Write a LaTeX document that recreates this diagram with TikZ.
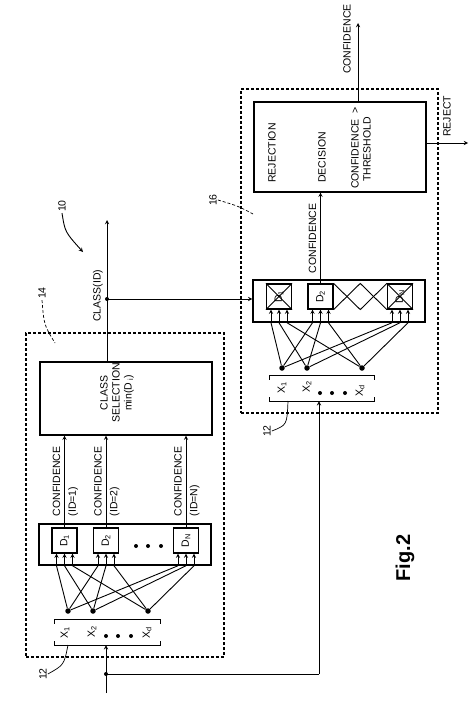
\documentclass[tikz,border=0pt]{standalone}
\usepackage{fontspec}
\setmainfont{Liberation Sans}
\usetikzlibrary{calc}

\begin{document}
\begin{tikzpicture}[x=1pt, y=-1pt, >=stealth,
  every node/.style={font=\fontsize{10.5}{12}\selectfont, inner sep=1pt},
  blk/.style={draw, line width=1.2pt, inner sep=0pt},
  bank/.style={draw, line width=1.5pt, inner sep=0pt, minimum width=172pt},
  dbox/.style={draw, line width=1.2pt, inner sep=0pt, minimum width=25pt, minimum height=25pt},
  module/.style={draw, densely dashed, line width=1.1pt, inner sep=0pt},
  lbl/.style={rotate=90},
  jdot/.style={circle, fill, inner sep=0pt, minimum size=5.5pt},
  sdot/.style={circle, fill, inner sep=0pt, minimum size=4pt},
  wire/.style={line width=0.9pt},
  lead/.style={line width=0.7pt, densely dashed}]

\useasboundingbox (0,0) rectangle (474,714);

% module 14 (class selection)
\node (M14) [module, minimum width=198pt, minimum height=324pt] at (125,495) {};
\node (S) [blk, minimum width=172pt, minimum height=73pt] at (126,398.5) {};
\node (St) [lbl, align=center] at (117,393) {CLASS\\SELECTION\\min(D\textsubscript{ i})};
\node (B1) [bank, minimum height=41pt] at (125,544.5) {};
\node (D1) [dbox] at (64.5,540.5) {};
\node (D2) [dbox] at (106,540.5) {};
\node (DN) [dbox] at (186,540.5) {};
\node (D1t) [lbl] at (D1) {D\textsubscript{1}};
\node (D2t) [lbl] at (D2) {D\textsubscript{2}};
\node (DNt) [lbl] at (DN) {D\textsubscript{N}};
\node (b1) [sdot] at (136,546) {};
\node (b2) [sdot] at (148,546) {};
\node (b3) [sdot] at (161,546) {};
\node (P1) [jdot] at (68,611) {};
\node (P2) [jdot] at (93,611) {};
\node (Pd) [jdot] at (148,611) {};
\node (V1) [minimum width=105pt, minimum height=25pt, inner sep=0pt] at (107.5,632.5) {};
\draw[line width=0.9pt] ([yshift=-4pt]V1.north west) -- (V1.north west) -- (V1.north east) -- ([yshift=-4pt]V1.north east);
\draw[line width=0.9pt] ([yshift=4pt]V1.south west) -- (V1.south west) -- (V1.south east) -- ([yshift=4pt]V1.south east);
\node (X1) [lbl] at (65,633) {X\textsubscript{1}};
\node (X2) [lbl] at (92,632) {X\textsubscript{2}};
\node (Xd) [lbl] at (147,633) {X\textsubscript{d}};
\node (v1) [sdot] at (106,636) {};
\node (v2) [sdot] at (118,636) {};
\node (v3) [sdot] at (131,636) {};

% module 16 (rejection)
\node (M16) [module, minimum width=197pt, minimum height=324pt] at (339.5,251) {};
\node (R) [blk, minimum width=172pt, minimum height=90pt] at (340,147) {};
\node (R1) [lbl, anchor=west] at (272,184) {REJECTION};
\node (R2) [lbl, anchor=west] at (322,184) {DECISION};
\node (R3) [lbl, anchor=west] at (355,190) {CONFIDENCE\hspace{6pt}>};
\node (R4) [lbl, anchor=west] at (367,183) {THRESHOLD};
\node (B2) [bank, minimum height=42pt] at (339,301) {};
\node (E1) [dbox] at (279,296.5) {};
\node (E2) [dbox] at (320.5,296.5) {};
\node (EN) [dbox] at (400,296.5) {};
\node (E1t) [lbl] at (E1) {D\textsubscript{1}};
\node (E2t) [lbl] at (E2) {D\textsubscript{2}};
\node (ENt) [lbl] at (EN) {D\textsubscript{N}};
\draw[wire] (E1.north west) -- (E1.south east) (E1.south west) -- (E1.north east);
\draw[wire] (EN.north west) -- (EN.south east) (EN.south west) -- (EN.north east);
\coordinate (Zt) at ($(E2.north east)!.5!(EN.north west)$);
\coordinate (Zb) at ($(E2.south east)!.5!(EN.south west)$);
\draw[wire] (E2.north east) -- (Zb) -- (EN.north west);
\draw[wire] (E2.south east) -- (Zt) -- (EN.south west);
\node (Q1) [jdot] at (282,368) {};
\node (Q2) [jdot] at (307,368) {};
\node (Qd) [jdot] at (362,368) {};
\node (V2) [minimum width=104pt, minimum height=25pt, inner sep=0pt] at (322,388.5) {};
\draw[line width=0.9pt] ([yshift=-4pt]V2.north west) -- (V2.north west) -- (V2.north east) -- ([yshift=-4pt]V2.north east);
\draw[line width=0.9pt] ([yshift=4pt]V2.south west) -- (V2.south west) -- (V2.south east) -- ([yshift=4pt]V2.south east);
\node (Y1) [lbl] at (282,388) {X\textsubscript{1}};
\node (Y2) [lbl] at (307,387) {X\textsubscript{2}};
\node (Yd) [lbl] at (360,391) {X\textsubscript{d}};
\node (w1) [sdot] at (320,393) {};
\node (w2) [sdot] at (332,393) {};
\node (w3) [sdot] at (345,393) {};

% fan-in of the features
\foreach \b in {D1,D2,DN} {
  \foreach \p/\o in {P1/-8,P2/0,Pd/8} {
    \draw[wire] (\p) -- ($(\b.south |- B1.south)+(\o,0)$);
    \draw[wire,->] ($(\b.south |- B1.south)+(\o,0)$) -- ($(\b.south)+(\o,0)$);
  }
}
\foreach \b in {E1,E2,EN} {
  \foreach \p/\o in {Q1/-8,Q2/0,Qd/8} {
    \draw[wire] (\p) -- ($(\b.south |- B2.south)+(\o,0)$);
    \draw[wire,->] ($(\b.south |- B2.south)+(\o,0)$) -- ($(\b.south)+(\o,0)$);
  }
}

% confidences into class selection
\draw[wire,->] (D1.north) -- (D1.north |- S.south);
\draw[wire,->] (D2.north) -- (D2.north |- S.south);
\draw[wire,->] (DN.north) -- (DN.north |- S.south);
\node (C1a) [lbl, anchor=south west] at ([xshift=-3pt,yshift=10pt]D1.north) {CONFIDENCE};
\node (C1b) [lbl, anchor=north west] at ([xshift=2.5pt,yshift=10pt]D1.north) {(ID=1)};
\node (C2a) [lbl, anchor=south west] at ([xshift=-3pt,yshift=10pt]D2.north) {CONFIDENCE};
\node (C2b) [lbl, anchor=north west] at ([xshift=2.5pt,yshift=10pt]D2.north) {(ID=2)};
\node (CNa) [lbl, anchor=south west] at ([xshift=-3pt,yshift=10pt]DN.north) {CONFIDENCE};
\node (CNb) [lbl, anchor=north west] at ([xshift=2.5pt,yshift=10pt]DN.north) {(ID=N)};

% input vector
\coordinate (IN) at (106,693);
\coordinate (J2) at (319,674);
\draw[wire,->] (IN) -- (IN |- V1.south);
\node (J1) [sdot] at (106,674) {};
\draw[wire] (J1.center) -- (J2);
\draw[wire,->] (J2) -- (J2 |- V2.south);

% class output
\coordinate (CO) at (107,220);
\node (C) [sdot] at (107,299) {};
\draw[wire,->] (CO |- S.north) -- (CO);
\draw[wire,->] (C.center) -- (C.center -| B2.west);
\node (CL) [lbl, anchor=south west] at (104,323) {CLASS(ID)};

% rejection
\draw[wire,->] (E2.north) -- (E2.north |- R.south);
\node (CE) [lbl, anchor=south west] at ([xshift=-3pt,yshift=9pt]E2.north) {CONFIDENCE};
\coordinate (RO) at (358,23);
\draw[wire,->] (RO |- R.north) -- (RO);
\node (CO2) [lbl, anchor=south west] at (352,75) {CONFIDENCE};
\coordinate (RJ) at (468,143);
\draw[wire,->] (RJ -| R.east) -- (RJ);
\node (RJt) [lbl, anchor=west] at (447,138) {REJECT};

% reference numerals
\node (N10) [lbl] at (62,206) {10};
\node (N14) [lbl] at (42,293) {14};
\node (N16) [lbl] at (213,200) {16};
\node (N12a) [lbl] at (43,674) {12};
\node (N12b) [lbl] at (267,431) {12};
\coordinate (L10) at (83,252);
\coordinate (L14) at (55,343);
\coordinate (L16) at (253,214);
\coordinate (L12a) at (68,645);
\coordinate (L12b) at (288,401);
\draw[line width=0.9pt,->] (N10.west) .. controls (65,232) .. (L10);
\draw[lead] (N14.west) .. controls (44,325) .. (L14);
\draw[lead] (N16.south) .. controls (238,206) .. (L16);
\draw[line width=0.7pt] (N12a.south) .. controls (64,665) .. (L12a);
\draw[line width=0.7pt] (N12b.south) .. controls (287,425) .. (L12b);

\node (FIG) [rotate=90, font=\bfseries\fontsize{20}{24}\selectfont] at (405,558) {Fig.2};
\end{tikzpicture}
\end{document}
